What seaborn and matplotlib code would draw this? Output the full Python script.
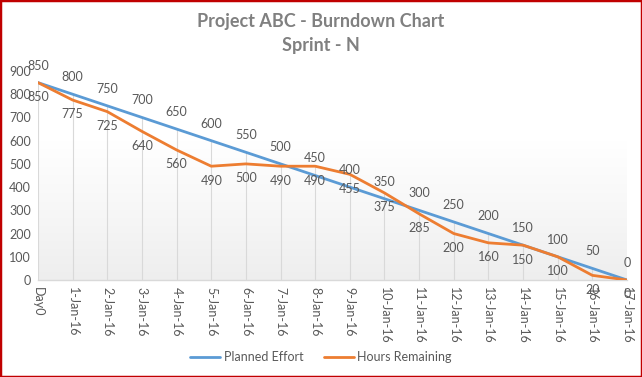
import matplotlib
matplotlib.use("Agg")
import matplotlib.pyplot as plt
import numpy as np
import pandas as pd
import seaborn as sns
from matplotlib.patches import Rectangle
from matplotlib.lines import Line2D
from matplotlib.colors import LinearSegmentedColormap

days = ["Day0"] + [f"{i}-Jan-16" for i in range(1, 18)]
planned = [850, 800, 750, 700, 650, 600, 550, 500, 450, 400, 350, 300, 250, 200, 150, 100, 50, 0]
remaining = [850, 775, 725, 640, 560, 490, 500, 490, 490, 455, 375, 285, 200, 160, 150, 100, 20, 0]
series_names = ["Planned Effort", "Hours Remaining"]
colors = ["#5B9BD5", "#ED7D31"]
yticks = [0, 100, 200, 300, 400, 500, 600, 700, 800, 900]

sns.set_theme(style="white")
plt.rcParams['font.family'] = ['Lato', 'DejaVu Sans']
text_color = "#595959"
fs = 9

df = pd.DataFrame({
    "day": days * 2,
    "pos": list(range(len(days))) * 2,
    "value": planned + remaining,
    "series": [series_names[0]] * len(days) + [series_names[1]] * len(days),
})

fig = plt.figure(figsize=(6.42, 3.77), dpi=100)
ax = fig.add_axes([38/642, 1 - 280/377, (627-38)/642, (280-71)/377])

# gradient background
grad = np.linspace(0, 1, 256).reshape(-1, 1)
cmap = LinearSegmentedColormap.from_list("g", ["#FFFFFF", "#FFFFFF", "#F7F7F7", "#EEEEEE"])
ax.imshow(grad, extent=[0, 1, 0, 1], transform=ax.transAxes, cmap=cmap,
          aspect="auto", zorder=0, origin="upper")

x = np.arange(len(days))
top = np.maximum(planned, remaining)
ax.vlines(x, 0, top, color="#D9D9D9", lw=0.8, zorder=1)

sns.lineplot(data=df, x="pos", y="value", hue="series", palette=colors,
             hue_order=series_names, ax=ax, lw=2, legend=False, zorder=3)

for i in range(len(days)):
    ax.annotate(str(planned[i]), (x[i], planned[i]), xytext=(0, 8),
                textcoords="offset points", ha="center", va="bottom",
                fontsize=fs, color=text_color, zorder=4)
    ax.annotate(str(remaining[i]), (x[i], remaining[i]), xytext=(0, -6),
                textcoords="offset points", ha="center", va="top",
                fontsize=fs, color=text_color, zorder=4)

ax.set_xlim(0, len(days) - 1)
ax.set_ylim(0, 900)
ax.set_yticks(yticks)
ax.set_yticklabels([str(v) for v in yticks], fontsize=fs, color=text_color)
ax.set_xticks(x)
ax.set_xticklabels(days, rotation=-90, fontsize=fs, color=text_color, va="top", ha="center")
ax.tick_params(axis="both", length=0, pad=5)
ax.set_xlabel("")
ax.set_ylabel("")
for s in ["top", "right", "left"]:
    ax.spines[s].set_visible(False)
ax.spines["bottom"].set_color("#D9D9D9")
ax.spines["bottom"].set_linewidth(1)
ax.grid(False)

fig.text(0.5, 1 - 22/377, "Project ABC - Burndown Chart", ha="center", va="center",
         fontsize=13, fontweight="bold", color="#808080")
fig.text(0.5, 1 - 45/377, "Sprint - N", ha="center", va="center",
         fontsize=13, fontweight="bold", color="#808080")

handles = [Line2D([0], [0], color=c, lw=2) for c in colors]
fig.legend(handles, series_names, loc="center", bbox_to_anchor=(0.5, 1 - 357/377),
           ncol=2, frameon=False, fontsize=fs, labelcolor=text_color,
           handlelength=2.4, columnspacing=1.6, handletextpad=0.3)

fig.patches.append(Rectangle((0, 0), 1, 1, transform=fig.transFigure, fill=False,
                             edgecolor="#C00000", lw=2.5, zorder=10))

fig.savefig("out.png", dpi=100)
